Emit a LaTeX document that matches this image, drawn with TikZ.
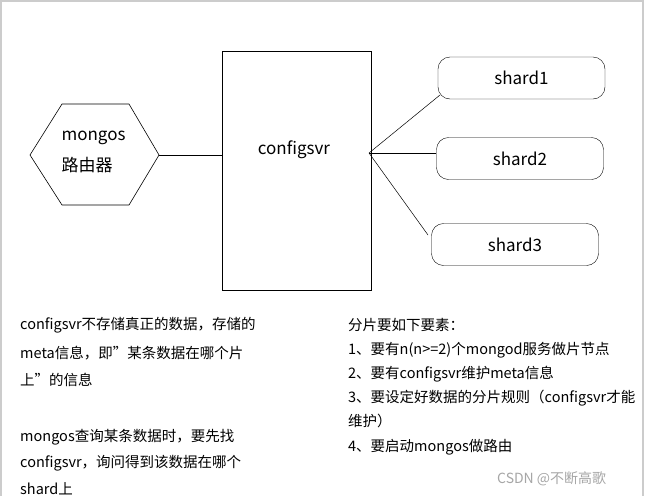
\documentclass[tikz,border=0pt]{standalone}
\usepackage{fontspec}
\setmainfont{Noto Sans CJK SC}
\begin{document}
\begin{tikzpicture}[x=1pt,y=-1pt,
  lbl/.style={font=\fontsize{17}{20}\selectfont},
  txt/.style={anchor=west,inner sep=0,font=\fontsize{14.5}{17}\selectfont},
  shardbox/.style={draw,rounded corners=12pt,minimum width=167pt,minimum height=42pt,lbl},
  link/.style={draw,line width=0.5pt}]
\useasboundingbox (0,0) rectangle (649,496);
\draw[gray!40,line width=1.5pt] (1,496) -- (1,1) -- (643,1) -- (643,496);
\coordinate (h1) at (30,155);
\coordinate (h2) at (62,104);
\coordinate (h3) at (129,104);
\coordinate (h4) at (159,155);
\coordinate (h5) at (129,205);
\coordinate (h6) at (62,205);
\draw[line width=0.6pt] (h1) -- (h2) -- (h3) -- (h4) -- (h5) -- (h6) -- cycle;
\node[lbl,align=left,anchor=west,font=\fontsize{17}{31}\selectfont] (mongos) at (58,152) {mongos\\路由器};
\node[draw,minimum width=149pt,minimum height=239pt,anchor=north west,line width=0.6pt] (cfg) at (222,51) {};
\node[lbl] (cfgt) at (294,150) {configsvr};
\coordinate (j) at (369,153);
\node[shardbox] (s1) at (521.5,78) {shard1};
\node[shardbox] (s2) at (520,158.5) {shard2};
\node[shardbox] (s3) at (515,244.5) {shard3};
\draw[link] (h4) -- (cfg.west |- h4);
\draw[link] (j) -- (440,95);
\draw[link] (j) -- (s2.west |- j);
\draw[link] (j) -- (428,235);
\node[txt] (l1) at (20,325) {configsvr不存储真正的数据，存储的};
\node[txt] (l2) at (20,353) {meta信息，即"某条数据在哪个片};
\node[txt] (l3) at (20,380) {上"的信息};
\node[txt] (l4) at (20,437) {mongos查询某条数据时，要先找};
\node[txt] (l5) at (20,463) {configsvr，询问得到该数据在哪个};
\node[txt] (l6) at (20,489) {shard上};
\node[txt] (r1) at (348,325) {分片要如下要素：};
\node[txt] (r2) at (348,350) {1、要有n(n>=2)个mongod服务做片节点};
\node[txt] (r3) at (348,374) {2、要有configsvr维护meta信息};
\node[txt] (r4) at (348,398) {3、要设定好数据的分片规则（configsvr才能};
\node[txt] (r5) at (348,421) {维护）};
\node[txt] (r6) at (348,447) {4、要启动mongos做路由};
\node[txt,gray!70,font=\fontsize{14}{16}\selectfont] (wm) at (497,479) {CSDN @不断高歌};
\end{tikzpicture}
\end{document}
